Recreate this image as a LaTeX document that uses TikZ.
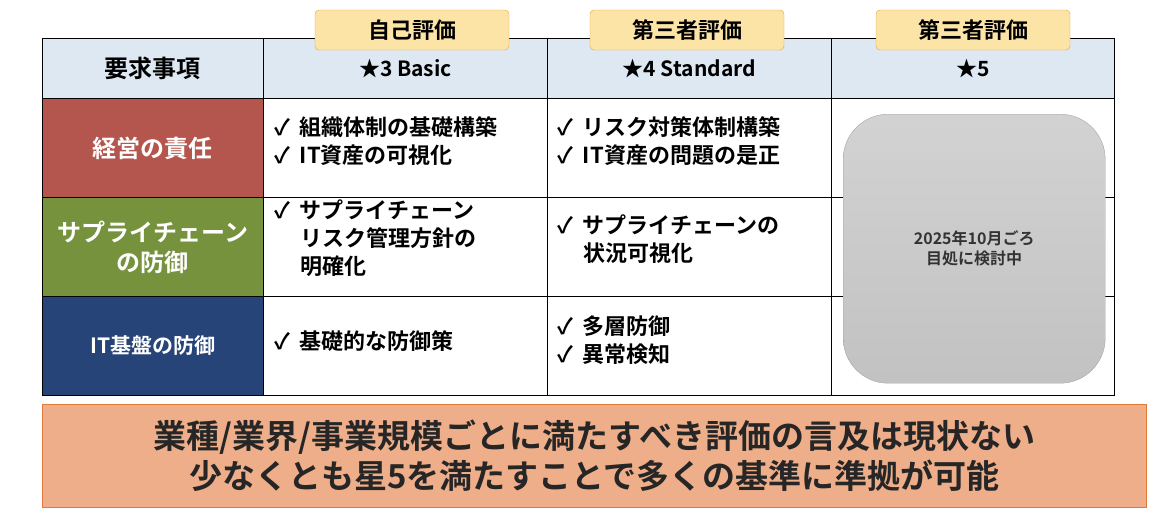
\documentclass[tikz,border=0pt]{standalone}
\usepackage{fontspec}
\setmainfont{Noto Sans CJK JP}[BoldFont={Noto Sans CJK JP Bold}]
\usetikzlibrary{positioning}
\definecolor{headblue}{HTML}{DDE8F3}
\definecolor{redrow}{HTML}{B5564E}
\definecolor{greenrow}{HTML}{76923C}
\definecolor{bluerow}{HTML}{264478}
\definecolor{tabfill}{HTML}{FCE3A6}
\definecolor{taborange}{HTML}{E8A33D}
\definecolor{bannerfill}{HTML}{EFAE8A}
\definecolor{bannerline}{HTML}{E07A3A}
\newcommand{\chk}{✓\hspace{0.45em}}
\newcommand{\ind}{\phantom{✓}\hspace{0.45em}}
\tikzset{
  cell/.style={draw=black, line width=0.8pt, inner sep=0pt, anchor=north west},
  rowhead/.style={cell, text=white, font=\bfseries\fontsize{24}{30}\selectfont, align=center},
  items/.style={anchor=north west, inner sep=0pt, align=left, font=\bfseries\fontsize{22}{28}\selectfont},
  tab/.style={draw=taborange, fill=tabfill, rounded corners=4pt, minimum width=194pt, minimum height=40pt, font=\bfseries\fontsize{22}{24}\selectfont}
}
\begin{document}
\begin{tikzpicture}[x=1pt,y=-1pt]
  \useasboundingbox (0,0) rectangle (1156,512);

  % Header row
  \node[cell, fill=headblue, minimum width=221pt, minimum height=60pt, font=\bfseries\fontsize{24}{28}\selectfont] (hReq) at (42,38) {要求事項};
  \node[cell, fill=headblue, minimum width=284pt, minimum height=60pt, font=\bfseries\fontsize{21}{24}\selectfont] (hS3) at (263,38) {★3 Basic};
  \node[cell, fill=headblue, minimum width=284pt, minimum height=60pt, font=\bfseries\fontsize{21}{24}\selectfont] (hS4) at (547,38) {★4 Standard};
  \node[cell, fill=headblue, minimum width=283pt, minimum height=60pt, font=\bfseries\fontsize{21}{24}\selectfont] (hS5) at (831,38) {★5};

  % Row heads
  \node[rowhead, fill=redrow, minimum width=221pt, minimum height=99pt] (rMgmt) at (42,98) {経営の責任};
  \node[rowhead, fill=greenrow, minimum width=221pt, minimum height=99pt] (rSupply) at (42,197) {サプライチェーン\\の防御};
  \node[rowhead, fill=bluerow, minimum width=221pt, minimum height=99pt, font=\bfseries\fontsize{21}{27}\selectfont] (rIT) at (42,296) {IT基盤の防御};

  % Body cells
  \foreach \x/\w/\c in {263/284/b, 547/284/c, 831/283/d}{
    \foreach \y/\r in {98/1, 197/2, 296/3}{
      \node[cell, minimum width=\w pt, minimum height=99pt] (cell\c\r) at (\x,\y) {};
    }
  }

  % Items
  \node[items] (iB1) at (274,116) {\chk 組織体制の基礎構築\\\chk IT資産の可視化};
  \node[items] (iC1) at (557,116) {\chk リスク対策体制構築\\\chk IT資産の問題の是正};
  \node[items] (iB2) at (274,200) {\chk サプライチェーン\\\ind リスク管理方針の\\\ind 明確化};
  \node[items] (iC2) at (557,215) {\chk サプライチェーンの\\\ind 状況可視化};
  \node[items] (iB3) at (274,330) {\chk 基礎的な防御策};
  \node[items] (iC3) at (557,316) {\chk 多層防御\\\chk 異常検知};

  % Star 5 placeholder
  \node[draw=gray!70, top color=gray!35, bottom color=gray!48, rounded corners=45pt, minimum width=262pt, minimum height=269pt, anchor=north west, align=center, text=black!80, font=\bfseries\fontsize{16}{20}\selectfont] (pending) at (843,114) {2025年10月ごろ\\目処に検討中};

  % Tabs
  \node[tab] (tabSelf) at (412,30) {自己評価};
  \node[tab] (tabThird) at (687,30) {第三者評価};
  \node[tab] (tabThird5) at (973,30) {第三者評価};

  % Banner
  \node[draw=bannerline, line width=1pt, fill=bannerfill, minimum width=1104pt, minimum height=103pt, anchor=north west, align=center, font=\bfseries\fontsize{33}{40}\selectfont, text=black!85] (banner) at (42,404) {業種/業界/事業規模ごとに満たすべき評価の言及は現状ない\\少なくとも星5を満たすことで多くの基準に準拠が可能};
\end{tikzpicture}
\end{document}
